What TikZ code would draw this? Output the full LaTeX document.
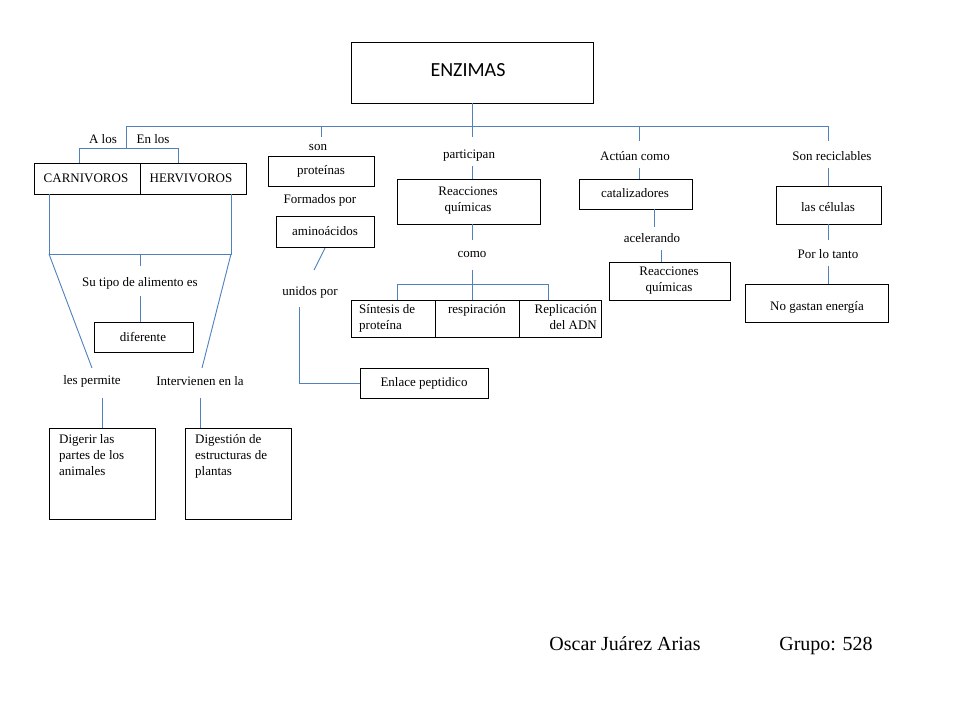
\documentclass[tikz,border=0pt]{standalone}
\usepackage{fontspec}
\setmainfont{Liberation Serif}
\newfontfamily\titlefont{Carlito}
\definecolor{lnc}{RGB}{79,129,189}
\begin{document}
\begin{tikzpicture}[x=1pt,y=-1pt,
  ln/.style={draw=lnc, line width=0.9pt},
  bx/.style={draw, line width=0.9pt},
  lb/.style={font=\fontsize{13}{16}\selectfont, inner sep=1pt}]
\useasboundingbox (0,0) rectangle (960,720);
\fill[white] (0,0) rectangle (960,720);
% title
\draw[bx] (351,42) rectangle (593,103);
\node[font=\titlefont\fontsize{20}{22}\selectfont] (t) at (468,70) {ENZIMAS};
\draw[ln] (472,103) -- (472,126);
\draw[ln] (126,126) -- (828,126);
% left branch
\draw[ln] (126,126) -- (126,148);
\draw[ln] (79,163) -- (79,148) -- (178,148) -- (178,163);
\node[lb] (alos) at (103,139) {A los};
\node[lb] (enlos) at (153,139) {En los};
\draw[bx] (34,163) rectangle (140,194);
\draw[bx] (140,163) rectangle (246,194);
\node[lb] (carn) at (86,178) {CARNIVOROS};
\node[lb] (herv) at (191,178) {HERVIVOROS};
\draw[ln] (49,194) -- (49,254) -- (231,254) -- (231,194);
\draw[ln] (140,254) -- (140,266);
\node[lb] (tipo) at (140,283) {Su tipo de alimento es};
\draw[ln] (140,296) -- (140,322);
\draw[bx] (94,322) rectangle (193,352);
\node[lb] (dif) at (143,337) {diferente};
\draw[ln] (49,254) -- (92,368);
\draw[ln] (231,254) -- (202,368);
\node[lb] (perm) at (92,381) {les permite};
\node[lb] (interv) at (200,381) {Intervienen en la};
\draw[ln] (102,398) -- (102,428);
\draw[ln] (200,398) -- (200,428);
\draw[bx] (49,428) rectangle (155,519);
\draw[bx] (185,428) rectangle (291,519);
\node[lb, anchor=north west, align=left] (dig1) at (58,433) {Digerir las\\partes de los\\animales};
\node[lb, anchor=north west, align=left] (dig2) at (194,433) {Digestión de\\estructuras de\\plantas};
% son
\draw[ln] (321,126) -- (321,137);
\node[lb] (son) at (318,147) {son};
\draw[bx] (268,156) rectangle (374,186);
\node[lb] (prot) at (321,171) {proteínas};
\node[lb] (form) at (320,200) {Formados por};
\draw[bx] (276,216) rectangle (374,247);
\node[lb] (amino) at (325,231) {aminoácidos};
\draw[ln] (325,248) -- (314,270);
\node[lb] (unid) at (310,292) {unidos por};
\draw[ln] (299,307) -- (299,383) -- (360,383);
\draw[bx] (360,368) rectangle (488,398);
\node[lb] (enl) at (424,383) {Enlace peptidico};
% participan
\draw[ln] (472,126) -- (472,137);
\node[lb] (part) at (469,156) {participan};
\draw[ln] (472,166) -- (472,179);
\draw[bx] (397,179) rectangle (540,224);
\node[lb, align=center] (reac1) at (468,201) {Reacciones\\químicas};
\draw[ln] (472,224) -- (472,240);
\node[lb] (como) at (472,254) {como};
\draw[ln] (472,270) -- (472,300);
\draw[ln] (397,300) -- (397,284) -- (548,284) -- (548,300);
\draw[bx] (351,300) rectangle (601,337);
\draw[bx] (435,300) -- (435,337);
\draw[bx] (519,300) -- (519,337);
\node[lb, align=left, anchor=north west] (sint) at (358,303) {Síntesis de\\proteína};
\node[lb, anchor=north] (resp) at (477,303) {respiración};
\node[lb, align=right, anchor=north east] (repl) at (598,303) {Replicación\\del ADN};
% actuan
\draw[ln] (639,126) -- (639,141);
\node[lb] (act) at (635,156) {Actúan como};
\draw[ln] (639,168) -- (639,179);
\draw[bx] (579,179) rectangle (692,209);
\node[lb] (cat) at (635,193) {catalizadores};
\draw[ln] (654,209) -- (654,227);
\node[lb] (acel) at (652,238) {acelerando};
\draw[ln] (661,250) -- (661,262);
\draw[bx] (609,262) rectangle (730,300);
\node[lb, align=center] (reac2) at (669,281) {Reacciones\\químicas};
% reciclables
\draw[ln] (828,126) -- (828,141);
\node[lb] (rec) at (832,156) {Son reciclables};
\draw[ln] (828,168) -- (828,186);
\draw[bx] (776,186) rectangle (881,224);
\node[lb] (cel) at (828,207) {las células};
\draw[ln] (828,224) -- (828,240);
\node[lb] (tanto) at (828,254) {Por lo tanto};
\draw[ln] (828,266) -- (828,284);
\draw[bx] (745,284) rectangle (888,322);
\node[lb] (nog) at (817,307) {No gastan energía};
% footer
\node[font=\fontsize{20}{22}\selectfont, anchor=base] (name) at (625,650) {Oscar Juárez Arias};
\node[font=\fontsize{20}{22}\selectfont, anchor=base] (grp) at (826,650) {Grupo: 528};
\end{tikzpicture}
\end{document}
